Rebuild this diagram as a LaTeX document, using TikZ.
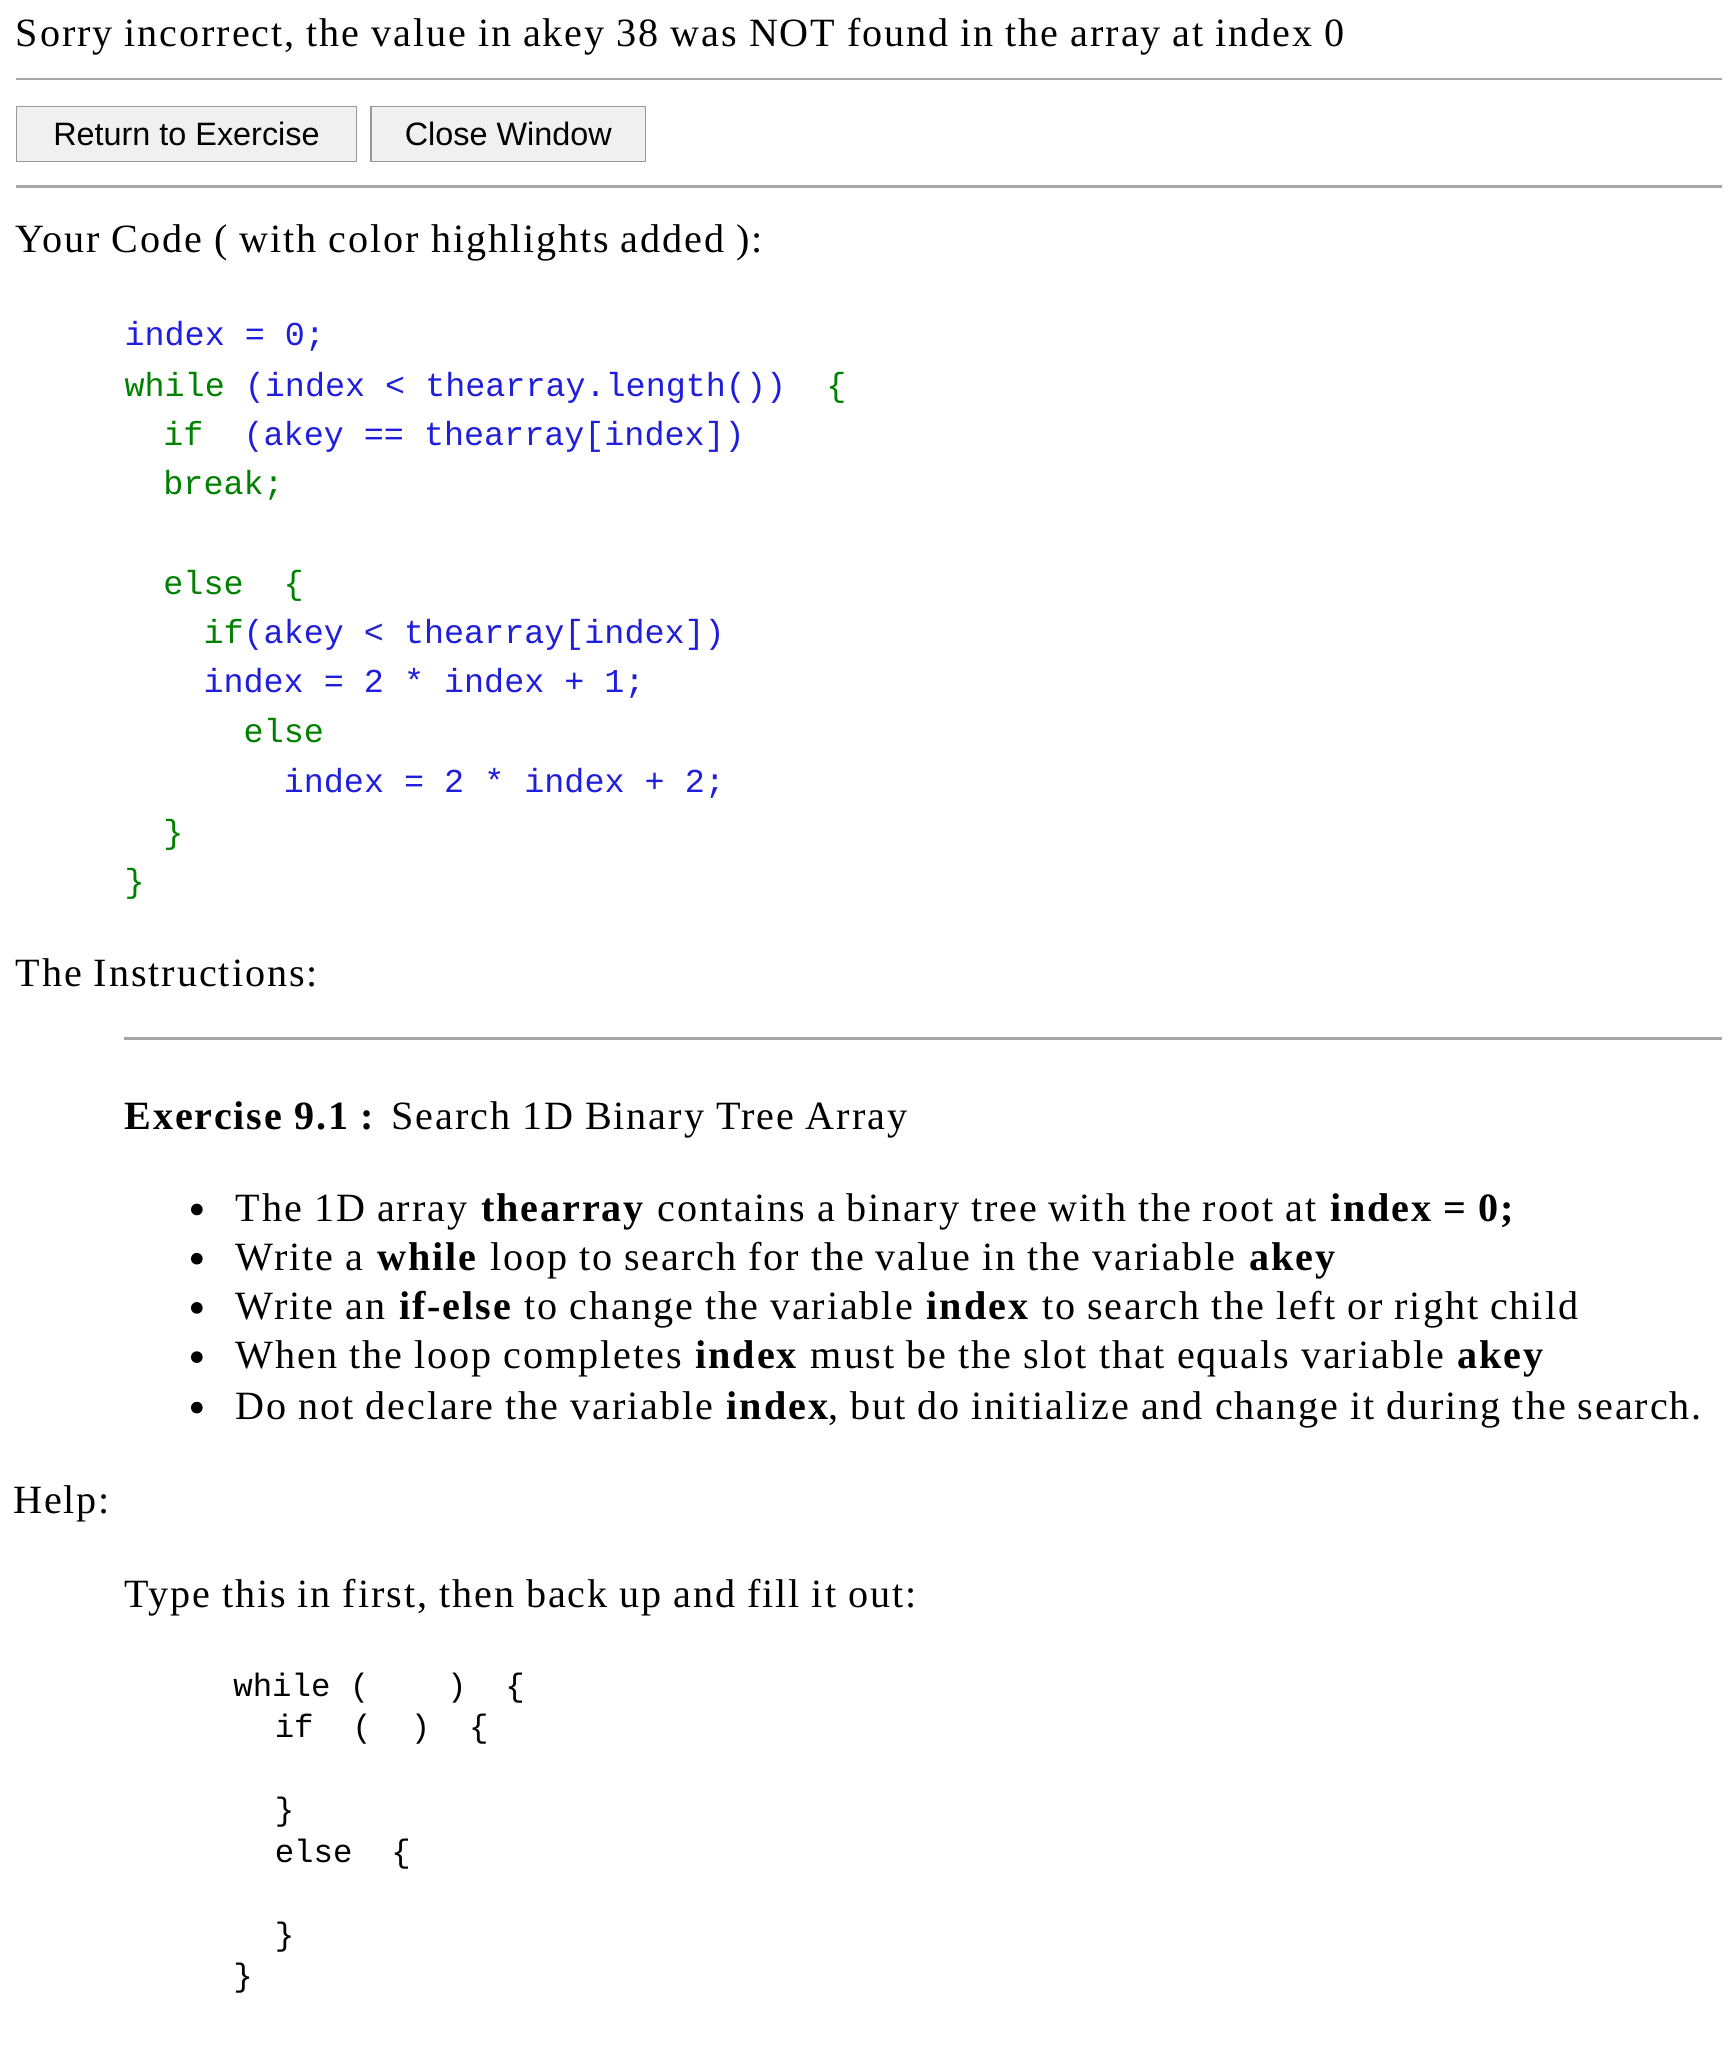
\documentclass[tikz,border=0pt]{standalone}
\usepackage{fontspec}
\setmainfont{Liberation Serif}[LetterSpace=4.8]
\setmonofont{Liberation Mono}
\setsansfont{Liberation Sans}
\definecolor{kw}{RGB}{0,128,0}
\definecolor{id}{RGB}{30,30,220}
\begin{document}
\begin{tikzpicture}[x=1pt,y=-1pt,
  txt/.style={anchor=base west,inner sep=0pt,font=\fontsize{31}{36}\selectfont},
  code/.style={anchor=base west,inner sep=0pt,font=\fontsize{25.8}{30}\ttfamily},
  hcode/.style={anchor=base west,inner sep=0pt,font=\fontsize{25}{28}\ttfamily},
  rulel/.style={draw=gray!70,line width=2pt},
  btn/.style={draw=gray!80,fill=gray!12,line width=1pt,minimum height=42pt,anchor=north west,inner xsep=14pt,font=\fontsize{25}{30}\sffamily}]
\useasboundingbox (0,0) rectangle (1340,1580);
\node[txt] (t1) at (12,36) {Sorry incorrect, the value in akey 38 was NOT found in the array at index 0};
\draw[rulel] (12,61) -- (1330,61);
\node[btn,minimum width=263pt] (b1) at (12,82) {Return to Exercise};
\node[btn,minimum width=212pt] (b2) at (286,82) {Close Window};
\draw[rulel] (12,144) -- (1330,144);
\node[txt] (t2) at (12,195) {Your Code ( with color highlights added ):};
\node[code] (c1) at (96,267) {\color{id}index = 0;};
\node[code] (c2) at (96,306) {\color{kw}while \color{id}(index < thearray.length())~~\color{kw}\{};
\node[code] (c3) at (126,344) {\color{kw}if~~\color{id}(akey == thearray[index])};
\node[code] (c4) at (126,382) {\color{kw}break;};
\node[code] (c5) at (126,459) {\color{kw}else~~\{};
\node[code] (c6) at (157,497) {\color{kw}if\color{id}(akey < thearray[index])};
\node[code] (c7) at (157,535) {\color{id}index = 2 * index + 1;};
\node[code] (c8) at (188,573) {\color{kw}else};
\node[code] (c9) at (219,612) {\color{id}index = 2 * index + 2;};
\node[code] (c10) at (126,651) {\color{kw}\}};
\node[code] (c11) at (96,689) {\color{kw}\}};
\node[txt] (t3) at (12,762) {The Instructions:};
\draw[rulel] (96,802) -- (1330,802);
\node[txt] (t4) at (96,872) {\textbf{Exercise 9.1 :} Search 1D Binary Tree Array};
\foreach \y in {943,981,1019,1057,1096}{\fill (152,\y-9) circle (4.5pt);}
\node[txt] (l1) at (182,943) {The 1D array \textbf{thearray} contains a binary tree with the root at \textbf{index = 0;}};
\node[txt] (l2) at (182,981) {Write a \textbf{while} loop to search for the value in the variable \textbf{akey}};
\node[txt] (l3) at (182,1019) {Write an \textbf{if-else} to change the variable \textbf{index} to search the left or right child};
\node[txt] (l4) at (182,1057) {When the loop completes \textbf{index} must be the slot that equals variable \textbf{akey}};
\node[txt] (l5) at (182,1096) {Do not declare the variable \textbf{index}, but do initialize and change it during the search.};
\node[txt] (t5) at (10,1169) {Help:};
\node[txt] (t6) at (96,1241) {Type this in first, then back up and fill it out:};
\node[hcode] (h1) at (180,1310) {while (~~~~)~~\{};
\node[hcode] (h2) at (212,1342) {if~~(~~)~~\{};
\node[hcode] (h3) at (212,1406) {\}};
\node[hcode] (h4) at (212,1438) {else~~\{};
\node[hcode] (h5) at (212,1502) {\}};
\node[hcode] (h6) at (180,1534) {\}};
\end{tikzpicture}
\end{document}
